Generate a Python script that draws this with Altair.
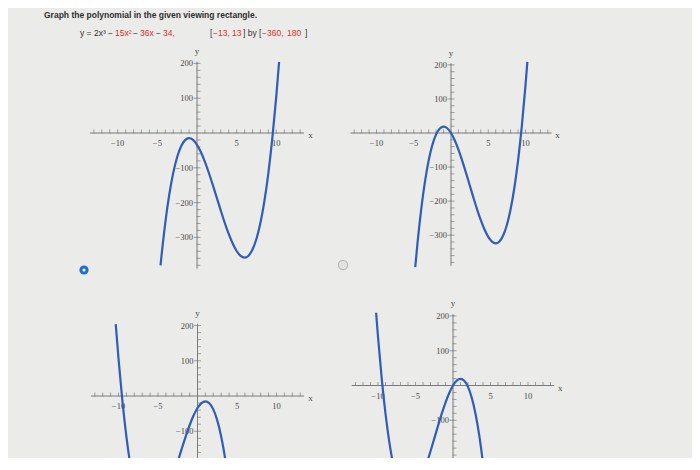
import altair as alt
import pandas as pd

# ---------------- text ----------------
TITLE = "Graph the polynomial in the given viewing rectangle."
EQ_PARTS = ["y = 2x³ −", "15x²", "−", "36x", "−", "34,", "[", "−13,", "13", "] by [",
            "−360,", "180", "]"]
EQ_RED = [False, True, False, True, False, True, False, True, True, False, True, True, False]

# ---------------- curves ----------------
P1_X = [-4.6, -4.5, -4, -3.5, -3, -2.5, -2, -1.5, -1, -0.5, 0, 0.5, 1, 1.5, 2, 2.5,
        3, 3.5, 4, 4.5, 5, 5.5, 6, 6.5, 7, 7.5, 8, 8.5, 9, 9.5, 10, 10.35]
P1_Y = [-380.5, -358, -258, -177.5, -115, -69, -38, -20.5, -15, -20, -34, -55.5, -83, -115,
        -150, -186.5, -223, -258, -290, -317.5, -339, -353, -358, -352.5, -335, -304, -258,
        -195.5, -115, -15, 106, 204]

P2_X = [-4.8, -4.5, -4, -3.5, -3, -2.5, -2, -1.5, -1, -0.5, 0, 0.5, 1, 1.5, 2, 2.5,
        3, 3.5, 4, 4.5, 5, 5.5, 6, 6.5, 7, 7.5, 8, 8.5, 9, 9.5, 10, 10.25]
P2_Y = [-394, -324, -224, -143.5, -81, -35, -4, 13.5, 19, 14, 0, -21.5, -49, -81, -116,
        -152.5, -189, -224, -256, -283.5, -305, -319, -324, -318.5, -301, -270, -224,
        -161.5, -81, 19, 140, 209]

P3_X = [-10.35, -10, -9.5, -9, -8.5, -8, -7.5, -7, -6.5, -6, -5.5, -5, -4.5, -4, -3.5, -3,
        -2.5, -2, -1.5, -1, -0.5, 0, 0.5, 1, 1.5, 2, 2.5, 3, 3.5, 4, 4.5, 4.6]
P3_Y = [204, 106, -15, -115, -195.5, -258, -304, -335, -352.5, -358, -353, -339, -317.5,
        -290, -258, -223, -186.5, -150, -115, -83, -55.5, -34, -20, -15, -20.5, -38, -69,
        -115, -177.5, -258, -358, -380.5]

P4_X = [-10.25, -10, -9.5, -9, -8.5, -8, -7.5, -7, -6.5, -6, -5.5, -5, -4.5, -4, -3.5, -3,
        -2.5, -2, -1.5, -1, -0.5, 0, 0.5, 1, 1.5, 2, 2.5, 3, 3.5, 4, 4.5, 4.8]
P4_Y = [209, 140, 19, -81, -161.5, -224, -270, -301, -318.5, -324, -319, -305, -283.5,
        -256, -224, -189, -152.5, -116, -81, -49, -21.5, 0, 14, 19, 13.5, -4, -35, -81,
        -143.5, -224, -324, -394]

# ---------------- axis ticks ----------------
X_MINOR = [-13, -12, -11, -10, -9, -8, -7, -6, -5, -4, -3, -2, -1,
           1, 2, 3, 4, 5, 6, 7, 8, 9, 10, 11, 12, 13]
X_LABELS = [-10, -5, 5, 10]
Y_MINOR = [-380, -360, -340, -320, -300, -280, -260, -240, -220, -200, -180, -160, -140,
           -120, -100, -80, -60, -40, -20, 20, 40, 60, 80, 100, 120, 140, 160, 180, 200]
Y_LABELS = [200, 100, -100, -200, -300]
X_RANGE = [-13.5, 13.5]
Y_RANGE = [-390, 205]

BLUE = "#2f5db7"
AXIS = "#7b7b7b"
LABEL = "#4a4a4a"
BG = "#ebebe9"
SERIF = "Liberation Serif"

W, H = 684, 450  # whole canvas


def fmt(v):
    return ("−" + str(abs(v))) if v < 0 else str(v)


def dummy():
    return pd.DataFrame({"a": [0]})


def panel(cx, cy, ox, sx, oy, sy, extras=()):
    """ox, oy: canvas pixel of the origin; sx, sy: pixels per unit."""
    xdom = [-ox / sx, (W - ox) / sx]
    ydom = [-(H - oy) / sy, oy / sy]
    xs = alt.Scale(domain=xdom, nice=False, zero=False)
    ys = alt.Scale(domain=ydom, nice=False, zero=False)

    def X(f):
        return alt.X(f, type="quantitative", scale=xs, axis=None)

    def Y(f):
        return alt.Y(f, type="quantitative", scale=ys, axis=None)

    xaxis = alt.Chart(pd.DataFrame({"x": [X_RANGE[0]], "x2": [X_RANGE[1]], "y": [0]})).mark_rule(
        color=AXIS, strokeWidth=1).encode(x=X("x"), x2="x2", y=Y("y"))
    yaxis = alt.Chart(pd.DataFrame({"x": [0], "y": [Y_RANGE[0]], "y2": [Y_RANGE[1]]})).mark_rule(
        color=AXIS, strokeWidth=1, clip=True).encode(x=X("x"), y=Y("y"), y2="y2")

    xt = pd.DataFrame({"x": X_MINOR, "y": [0] * len(X_MINOR)})
    xticks = alt.Chart(xt).mark_tick(orient="vertical", size=4, thickness=1, color=AXIS,
                                     yOffset=-1.5).encode(x=X("x"), y=Y("y"))
    ym = [v for v in Y_MINOR if v >= ydom[0]]
    yt = pd.DataFrame({"x": [0] * len(ym), "y": ym})
    yticks = alt.Chart(yt).mark_tick(orient="horizontal", size=4, thickness=1, color=AXIS,
                                     xOffset=1.5).encode(x=X("x"), y=Y("y"))
    yl = [v for v in Y_LABELS if v >= ydom[0] + 4 / sy]
    ymaj = alt.Chart(pd.DataFrame({"x": [0] * len(yl), "y": yl})).mark_tick(
        orient="horizontal", size=4, thickness=1, color=AXIS, xOffset=-1.5).encode(
        x=X("x"), y=Y("y"))

    xlab = alt.Chart(pd.DataFrame({"x": X_LABELS, "y": [0] * len(X_LABELS),
                                   "t": [fmt(v) for v in X_LABELS]})).mark_text(
        font=SERIF, fontSize=8.5, color=LABEL, dy=10, baseline="middle").encode(
        x=X("x"), y=Y("y"), text="t:N")
    ylab = alt.Chart(pd.DataFrame({"x": [0] * len(yl), "y": yl,
                                   "t": [fmt(v) for v in yl]})).mark_text(
        font=SERIF, fontSize=8.5, color=LABEL, align="right", dx=-4, baseline="middle").encode(
        x=X("x"), y=Y("y"), text="t:N")
    xname = alt.Chart(pd.DataFrame({"x": [14.3], "y": [0]})).mark_text(
        text="x", font=SERIF, fontSize=9, color=LABEL, dy=2).encode(x=X("x"), y=Y("y"))
    yname = alt.Chart(pd.DataFrame({"x": [0], "y": [236]})).mark_text(
        text="y", font=SERIF, fontSize=9, color=LABEL).encode(x=X("x"), y=Y("y"))

    curve = alt.Chart(pd.DataFrame({"x": cx, "y": cy})).mark_line(
        interpolate="monotone", color=BLUE, strokeWidth=2.2, clip=True).encode(
        x=X("x"), y=Y("y"))

    layers = [xaxis, yaxis, xticks, yticks, ymaj, xlab, ylab, xname, yname, curve] + list(extras)
    return alt.layer(*layers)


# radio buttons (choice markers)
radio_on = [
    alt.Chart(dummy()).mark_point(filled=True, size=85, color="#1f6fd0", opacity=1).encode(
        x=alt.value(76), y=alt.value(262)),
    alt.Chart(dummy()).mark_point(filled=True, size=9, color="white", opacity=1).encode(
        x=alt.value(76), y=alt.value(262)),
]
radio_off = [
    alt.Chart(dummy()).mark_point(filled=False, size=85, stroke="#b9b9b9", fill="#e2e2e0",
                                  strokeWidth=1.2, opacity=1).encode(
        x=alt.value(335), y=alt.value(257)),
]

# panel origins in canvas pixels, pixels per unit
p1 = panel(P1_X, P1_Y, 189, 7.93, 125, 0.348, radio_on)
p2 = panel(P2_X, P2_Y, 443, 7.45, 125, 0.3406, radio_off)
p3 = panel(P3_X, P3_Y, 189.5, 7.9, 388, 0.3525)
p4 = panel(P4_X, P4_Y, 445, 7.5, 377.5, 0.348)

# header
eq_x = [72, 107, 125, 132, 148, 155, 202, 205, 224, 235, 254, 279, 297]
head_layers = [alt.Chart(dummy()).mark_text(
    text=TITLE, align="left", baseline="middle", font="Liberation Sans", fontSize=8.5,
    fontWeight="bold", color="#2e2e2e").encode(x=alt.value(36), y=alt.value(7))]
for part, red, px in zip(EQ_PARTS, EQ_RED, eq_x):
    head_layers.append(alt.Chart(dummy()).mark_text(
        text=part, align="left", baseline="middle", font="Liberation Sans", fontSize=8.5,
        color="#d3302c" if red else "#333333").encode(x=alt.value(px), y=alt.value(25)))

chart = alt.layer(*head_layers, p1, p2, p3, p4).resolve_scale(
    x="independent", y="independent").properties(
    width=W, height=H, padding=0).configure(background=BG).configure_view(stroke=None)

chart.save("out.html", embed_options={"renderer": "svg", "actions": False})
